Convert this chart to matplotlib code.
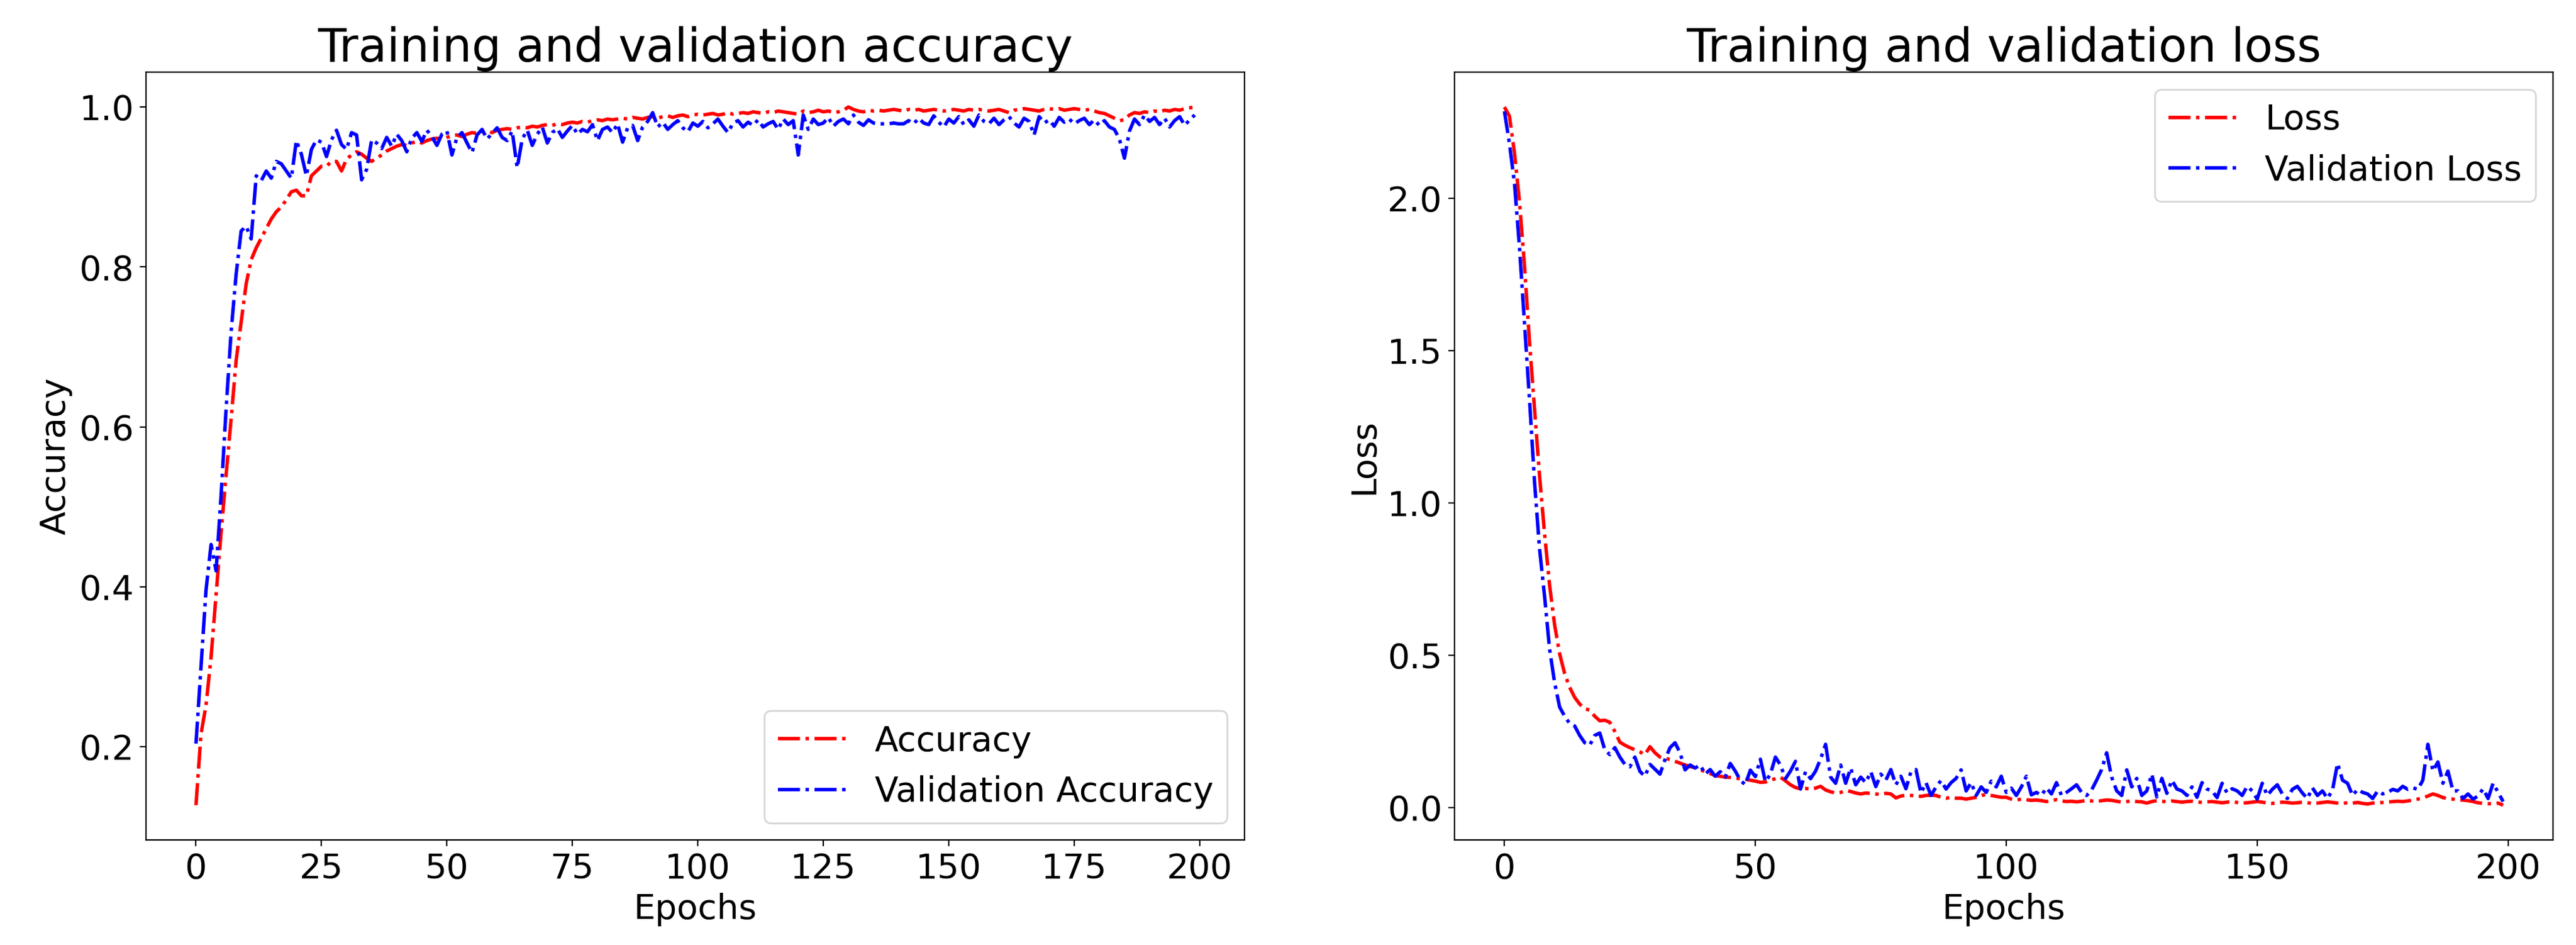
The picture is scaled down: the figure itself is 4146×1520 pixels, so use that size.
import matplotlib
matplotlib.use("Agg")
import matplotlib.pyplot as plt
import numpy as np

# valores (200 epocas)
acc = [0.127, 0.216, 0.252, 0.312, 0.390, 0.468, 0.540, 0.610, 0.683, 0.731,
       0.779, 0.809, 0.824, 0.836, 0.848, 0.860, 0.869, 0.875, 0.884, 0.894,
       0.896, 0.889, 0.889, 0.914, 0.920, 0.926, 0.926, 0.932, 0.932, 0.920,
       0.935, 0.940, 0.944, 0.941, 0.936, 0.932, 0.936, 0.940, 0.945, 0.948,
       0.951, 0.953, 0.952, 0.955, 0.957, 0.955, 0.958, 0.960, 0.961, 0.960,
       0.962, 0.964, 0.965, 0.963, 0.966, 0.968, 0.967, 0.969, 0.970, 0.968,
       0.971, 0.972, 0.973, 0.972, 0.974, 0.975, 0.974, 0.976, 0.975, 0.977,
       0.978, 0.977, 0.979, 0.978, 0.980, 0.981, 0.980, 0.982, 0.981, 0.983,
       0.984, 0.983, 0.985, 0.984, 0.985, 0.986, 0.985, 0.987, 0.986, 0.985,
       0.987, 0.988, 0.986, 0.988, 0.989, 0.987, 0.989, 0.990, 0.988, 0.990,
       0.991, 0.990, 0.991, 0.992, 0.990, 0.991, 0.993, 0.991, 0.992, 0.993,
       0.992, 0.994, 0.993, 0.992, 0.994, 0.993, 0.995, 0.994, 0.993, 0.992,
       0.991, 0.995, 0.993, 0.994, 0.996, 0.994, 0.995, 0.993, 0.994, 0.996,
       1.000, 0.997, 0.995, 0.994, 0.996, 0.995, 0.996, 0.995, 0.996, 0.997,
       0.996, 0.995, 0.997, 0.996, 0.997, 0.995, 0.996, 0.997, 0.996, 0.995,
       0.996, 0.997, 0.996, 0.995, 0.997, 0.996, 0.997, 0.996, 0.995, 0.996,
       0.997, 0.995, 0.993, 0.996, 0.997, 0.998, 0.997, 0.996, 0.995, 0.997,
       0.998, 0.997, 0.998, 0.996, 0.997, 0.998, 0.997, 0.996, 0.997, 0.995,
       0.993, 0.992, 0.989, 0.986, 0.983, 0.984, 0.990, 0.993, 0.992, 0.994,
       0.993, 0.995, 0.994, 0.996, 0.995, 0.997, 0.996, 0.998, 0.999, 1.000]

val_acc = [0.204, 0.300, 0.396, 0.453, 0.420, 0.515, 0.623, 0.719, 0.791, 0.845,
           0.851, 0.835, 0.914, 0.908, 0.920, 0.911, 0.932, 0.929, 0.920, 0.911,
           0.958, 0.941, 0.914, 0.947, 0.959, 0.956, 0.938, 0.959, 0.971, 0.953,
           0.947, 0.968, 0.965, 0.909, 0.922, 0.959, 0.955, 0.948, 0.962, 0.951,
           0.966, 0.958, 0.944, 0.961, 0.968, 0.957, 0.971, 0.963, 0.952, 0.966,
           0.970, 0.940, 0.962, 0.968, 0.955, 0.943, 0.965, 0.972, 0.960, 0.967,
           0.974, 0.962, 0.958, 0.970, 0.924, 0.960, 0.971, 0.952, 0.966, 0.975,
           0.955, 0.968, 0.973, 0.962, 0.970, 0.977, 0.966, 0.972, 0.969, 0.978,
           0.958, 0.972, 0.975, 0.968, 0.979, 0.956, 0.974, 0.977, 0.958, 0.975,
           0.982, 0.993, 0.975, 0.981, 0.972, 0.978, 0.983, 0.974, 0.969, 0.980,
           0.976, 0.982, 0.974, 0.979, 0.985, 0.976, 0.968, 0.980, 0.983, 0.975,
           0.981, 0.977, 0.984, 0.975, 0.979, 0.982, 0.972, 0.985, 0.978, 0.983,
           0.940, 0.990, 0.972, 0.985, 0.978, 0.980, 0.987, 0.976, 0.982, 0.985,
           0.979, 0.990, 0.981, 0.977, 0.984, 0.980, 0.979, 0.979, 0.979, 0.980,
           0.979, 0.979, 0.983, 0.979, 0.986, 0.980, 0.978, 0.989, 0.981, 0.975,
           0.985, 0.980, 0.988, 0.978, 0.984, 0.976, 0.990, 0.982, 0.979, 0.986,
           0.978, 0.984, 0.988, 0.980, 0.975, 0.986, 0.982, 0.965, 0.988, 0.980,
           0.984, 0.976, 0.987, 0.981, 0.985, 0.979, 0.983, 0.986, 0.978, 0.984,
           0.977, 0.983, 0.975, 0.972, 0.960, 0.936, 0.970, 0.985, 0.978, 0.990,
           0.982, 0.987, 0.978, 0.986, 0.975, 0.983, 0.988, 0.977, 0.984, 0.990]

loss = [2.300, 2.270, 2.150, 1.990, 1.780, 1.530, 1.310, 1.090, 0.900, 0.730,
        0.600, 0.505, 0.440, 0.395, 0.362, 0.340, 0.325, 0.320, 0.300, 0.285,
        0.287, 0.280, 0.250, 0.215, 0.205, 0.197, 0.190, 0.183, 0.174, 0.200,
        0.180, 0.166, 0.162, 0.158, 0.152, 0.146, 0.140, 0.135, 0.131, 0.125,
        0.118, 0.112, 0.105, 0.103, 0.100, 0.099, 0.097, 0.095, 0.093, 0.090,
        0.087, 0.083, 0.084, 0.090, 0.095, 0.100, 0.088, 0.075, 0.066, 0.062,
        0.063, 0.061, 0.064, 0.070, 0.058, 0.052, 0.048, 0.050, 0.056, 0.053,
        0.048, 0.045, 0.048, 0.047, 0.045, 0.043, 0.047, 0.045, 0.032, 0.038,
        0.041, 0.040, 0.039, 0.037, 0.040, 0.041, 0.040, 0.034, 0.031, 0.034,
        0.031, 0.031, 0.028, 0.031, 0.034, 0.040, 0.043, 0.040, 0.037, 0.034,
        0.034, 0.028, 0.025, 0.028, 0.026, 0.024, 0.025, 0.023, 0.020, 0.024,
        0.026, 0.022, 0.020, 0.021, 0.019, 0.021, 0.024, 0.022, 0.020, 0.023,
        0.025, 0.024, 0.021, 0.018, 0.020, 0.022, 0.020, 0.019, 0.015, 0.020,
        0.023, 0.021, 0.019, 0.022, 0.020, 0.018, 0.020, 0.021, 0.019, 0.017,
        0.019, 0.020, 0.018, 0.016, 0.018, 0.020, 0.017, 0.015, 0.016, 0.018,
        0.020, 0.018, 0.015, 0.014, 0.016, 0.018, 0.017, 0.015, 0.016, 0.018,
        0.016, 0.014, 0.015, 0.017, 0.019, 0.017, 0.015, 0.014, 0.016, 0.015,
        0.017, 0.014, 0.012, 0.015, 0.016, 0.017, 0.018, 0.020, 0.021, 0.020,
        0.022, 0.025, 0.028, 0.032, 0.038, 0.045, 0.040, 0.033, 0.030, 0.028,
        0.026, 0.025, 0.023, 0.020, 0.016, 0.014, 0.013, 0.013, 0.015, 0.008]

val_loss = [2.286, 2.180, 2.050, 1.840, 1.590, 1.340, 1.070, 0.850, 0.694, 0.520,
            0.410, 0.330, 0.300, 0.276, 0.268, 0.237, 0.213, 0.205, 0.237, 0.245,
            0.190, 0.174, 0.197, 0.166, 0.142, 0.134, 0.166, 0.119, 0.103, 0.142,
            0.126, 0.110, 0.158, 0.197, 0.213, 0.180, 0.124, 0.140, 0.130, 0.140,
            0.110, 0.125, 0.103, 0.118, 0.100, 0.145, 0.120, 0.090, 0.075, 0.123,
            0.102, 0.159, 0.085, 0.110, 0.166, 0.140, 0.095, 0.120, 0.152, 0.061,
            0.118, 0.095, 0.120, 0.160, 0.208, 0.100, 0.080, 0.140, 0.080, 0.130,
            0.075, 0.100, 0.082, 0.118, 0.069, 0.110, 0.090, 0.125, 0.075, 0.103,
            0.062, 0.118, 0.125, 0.048, 0.082, 0.040, 0.068, 0.089, 0.061, 0.082,
            0.096, 0.124, 0.055, 0.082, 0.040, 0.068, 0.050, 0.087, 0.068, 0.103,
            0.050, 0.064, 0.040, 0.068, 0.103, 0.042, 0.050, 0.040, 0.065, 0.045,
            0.082, 0.040, 0.050, 0.062, 0.075, 0.050, 0.040, 0.058, 0.090, 0.125,
            0.180, 0.100, 0.055, 0.040, 0.124, 0.068, 0.096, 0.040, 0.055, 0.110,
            0.035, 0.096, 0.047, 0.090, 0.061, 0.055, 0.040, 0.068, 0.034, 0.082,
            0.061, 0.055, 0.033, 0.080, 0.048, 0.062, 0.055, 0.040, 0.070, 0.055,
            0.028, 0.080, 0.040, 0.060, 0.075, 0.045, 0.030, 0.060, 0.070, 0.048,
            0.030, 0.065, 0.040, 0.055, 0.030, 0.058, 0.145, 0.090, 0.080, 0.040,
            0.060, 0.050, 0.045, 0.030, 0.055, 0.045, 0.050, 0.060, 0.055, 0.070,
            0.060, 0.065, 0.060, 0.090, 0.208, 0.120, 0.150, 0.080, 0.120, 0.055,
            0.055, 0.030, 0.045, 0.028, 0.038, 0.062, 0.030, 0.080, 0.050, 0.020]

epochs = np.arange(len(acc))
loss_xticks = [0, 50, 100, 150, 200]

fig, (ax1, ax2) = plt.subplots(1, 2, figsize=(20.73, 7.6), dpi=200)
plt.subplots_adjust(left=0.0567, right=0.9911, top=0.9237, bottom=0.111, wspace=0.191)

# Grafica de accuracy
ax1.plot(epochs, acc, 'r-.', linewidth=2, label='Accuracy')
ax1.plot(epochs, val_acc, 'b-.', linewidth=2, label='Validation Accuracy')
ax1.set_title('Training and validation accuracy', fontsize=27)
ax1.set_xlabel('Epochs', fontsize=20)
ax1.set_ylabel('Accuracy', fontsize=20)
ax1.tick_params(labelsize=20)
ax1.legend(loc='lower right', fontsize=20)

# Grafica de loss
ax2.plot(epochs, loss, 'r-.', linewidth=2, label='Loss')
ax2.plot(epochs, val_loss, 'b-.', linewidth=2, label='Validation Loss')
ax2.set_title('Training and validation loss', fontsize=27)
ax2.set_xlabel('Epochs', fontsize=20)
ax2.set_ylabel('Loss', fontsize=20)
ax2.set_xticks(loss_xticks)
ax2.tick_params(labelsize=20)
ax2.legend(loc='upper right', fontsize=20)

plt.savefig("out.png")
plt.close()
